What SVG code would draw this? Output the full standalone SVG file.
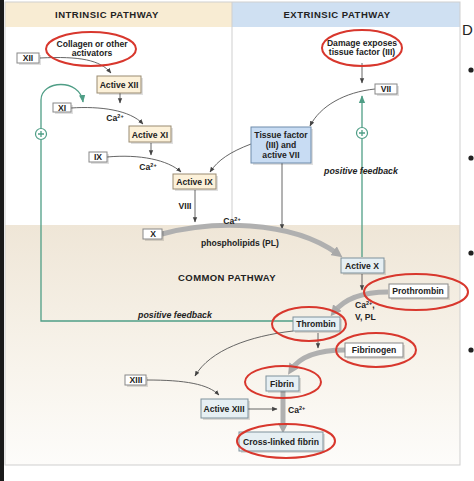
<svg xmlns="http://www.w3.org/2000/svg" width="474" height="481" viewBox="0 0 474 481">
<defs>
<linearGradient id="common" x1="0" y1="0" x2="0" y2="1">
<stop offset="0" stop-color="#efe6d7"/>
<stop offset="0.6" stop-color="#f8f4ec"/>
<stop offset="1" stop-color="#fdfcfa"/>
</linearGradient>
<marker id="ah" viewBox="0 0 10 10" refX="9" refY="5" markerWidth="6" markerHeight="6" orient="auto"><path d="M0,1 L10,5 L0,9 Z" fill="#444"/></marker>
<marker id="ag" viewBox="0 0 10 10" refX="9" refY="5" markerWidth="6" markerHeight="6" orient="auto"><path d="M0,1 L10,5 L0,9 Z" fill="#4f9e86"/></marker>
<marker id="at" viewBox="0 0 10 10" refX="5" refY="5" markerWidth="2.2" markerHeight="2.2" orient="auto"><path d="M0,0 L10,5 L0,10 Z" fill="#a9a9a9"/></marker>
<style>
text{font-family:"Liberation Sans",Arial,sans-serif;font-weight:bold;fill:#222}
.lbl{font-size:8.6px;text-anchor:middle}
.hdr{font-size:9.5px;text-anchor:middle;letter-spacing:0.5px}
.fac{fill:#fff;stroke:#888;stroke-width:1}
.act{fill:#fcf1d9;stroke:#9a8b72;stroke-width:1}
.com{fill:#e6eff3;stroke:#7f919b;stroke-width:1}
.tf{fill:#c8dcf3;stroke:#6f8cab;stroke-width:1}
.sh{fill:#000;opacity:0.12}
.red{fill:none;stroke:#d8372d;stroke-width:2}
.thin{fill:none;stroke:#555;stroke-width:0.9;marker-end:url(#ah)}
.thick{fill:none;stroke:#b0b0b0;stroke-width:5;marker-end:url(#at)}
.grn{fill:none;stroke:#4f9e86;stroke-width:1.3}
.it{font-style:italic;font-size:8.8px;text-anchor:middle}
</style>
</defs>
<rect width="474" height="481" fill="#fff"/>
<rect x="0" y="0" width="4" height="481" fill="#1a1a1a"/>
<rect x="5" y="225" width="455" height="240" fill="url(#common)"/>
<rect x="5" y="2" width="227" height="25" fill="#f8ecd3"/>
<rect x="232" y="2" width="228" height="25" fill="#cfe0f2"/>
<line x1="232" y1="2" x2="232" y2="225" stroke="#cfcfcf" stroke-width="1"/>
<rect x="5" y="2" width="455" height="463" fill="none" stroke="#cfcfcf" stroke-width="1"/>
<text class="hdr" x="107" y="18">INTRINSIC PATHWAY</text>
<text class="hdr" x="337" y="18">EXTRINSIC PATHWAY</text>
<text class="lbl" x="227" y="281" style="font-size:9.5px;letter-spacing:0.4px">COMMON PATHWAY</text>
<text x="462" y="35" style="font-size:15px;font-weight:normal">D</text>
<circle cx="471" cy="70" r="2.6" fill="#222"/>
<circle cx="471" cy="158" r="2.6" fill="#222"/>
<circle cx="471" cy="253" r="2.6" fill="#222"/>
<circle cx="471" cy="350" r="2.6" fill="#222"/>

<g id="connectors">
<path class="thin" d="M40,58 C80,56 100,60 111,73"/>
<path class="thin" d="M120,93 L120,103"/>
<path class="thin" d="M71,108 C100,106 130,110 143,124"/>
<path class="thin" d="M151,143 L151,155"/>
<path class="thin" d="M107,157 C140,154 168,160 181,172"/>
<path class="thin" d="M251,144 C230,152 218,160 210,172"/>
<path class="thin" d="M195,190 L195,222"/>
<path class="thin" d="M362,63 L362,83"/>
<path class="thin" d="M375,89 C345,92 320,106 310,126"/>
<path class="thin" d="M282,163 L282,229"/>
<path class="thin" d="M362,274 L362,290"/>
<path class="thin" d="M318,333 L318,348"/>
<path class="thin" d="M293,331 C250,336 210,350 195,376"/>
<path class="thin" d="M147,380 C185,380 208,384 219,395"/>
<path class="thin" d="M248,409 L277,409"/>
<path class="thick" d="M162,234 C210,221 290,219 338,254"/>
<path class="thick" d="M388,292 C365,292 345,298 334,312"/>
<path class="thick" d="M345,350 C318,350 300,356 291,370"/>
<path class="thick" d="M283,391 L283,428"/>
<path class="grn" d="M293,321 L41,321 L41,100 C41,80 80,78 83,102" marker-end="url(#ag)"/>
<path class="grn" d="M362,257 L362,96" marker-end="url(#ag)"/>
<circle cx="41" cy="134" r="5.5" fill="#fff" stroke="#4f9e86" stroke-width="1.2"/>
<path d="M38,134 h6 M41,131 v6" stroke="#4f9e86" stroke-width="1.3"/>
<circle cx="362" cy="133" r="5.5" fill="#fff" stroke="#4f9e86" stroke-width="1.2"/>
<path d="M359,133 h6 M362,130 v6" stroke="#4f9e86" stroke-width="1.3"/>
<text class="it" x="175" y="318">positive feedback</text>
<text class="it" x="361" y="174">positive feedback</text>
<text class="lbl" x="115" y="121">Ca<tspan dy="-3" font-size="5.5">2+</tspan></text>
<text class="lbl" x="148" y="170">Ca<tspan dy="-3" font-size="5.5">2+</tspan></text>
<text class="lbl" x="185" y="209">VIII</text>
<text class="lbl" x="232" y="224">Ca<tspan dy="-3" font-size="5.5">2+</tspan></text>
<text class="lbl" x="240" y="246">phospholipids (PL)</text>
<text x="355" y="308" style="font-size:8.6px">Ca<tspan dy="-3" font-size="5.5">2+</tspan><tspan dy="3">,</tspan></text>
<text x="355" y="320" style="font-size:8.6px">V, PL</text>
<text x="288" y="413" style="font-size:8.6px">Ca<tspan dy="-3" font-size="5.5">2+</tspan></text>
</g>

<g id="collagen"><text class="lbl" x="92" y="47">Collagen or other</text><text class="lbl" x="92" y="56">activators</text><ellipse class="red" cx="91" cy="49" rx="45" ry="17"/></g>
<g id="damage"><text class="lbl" x="362" y="46">Damage exposes</text><text class="lbl" x="362" y="55">tissue factor (III)</text><ellipse class="red" cx="362" cy="48" rx="40" ry="18"/></g>
<g id="xii"><rect class="sh" x="19" y="55" width="22" height="10"/><rect class="fac" x="17" y="53" width="22" height="10"/><text class="lbl" x="28" y="61">XII</text></g>
<g id="active-xii"><rect class="sh" x="99" y="78" width="44" height="17"/><rect class="act" x="97" y="76" width="44" height="17"/><text class="lbl" x="119" y="87.5">Active XII</text></g>
<g id="xi"><rect class="sh" x="55" y="105" width="18" height="9"/><rect class="fac" x="53" y="103" width="18" height="9"/><text class="lbl" x="62" y="111">XI</text></g>
<g id="active-xi"><rect class="sh" x="131" y="128" width="42" height="16"/><rect class="act" x="129" y="126" width="42" height="16"/><text class="lbl" x="150" y="137.5">Active XI</text></g>
<g id="ix"><rect class="sh" x="91" y="154" width="18" height="10"/><rect class="fac" x="89" y="152" width="18" height="10"/><text class="lbl" x="98" y="160">IX</text></g>
<g id="active-ix"><rect class="sh" x="175" y="176" width="43" height="15"/><rect class="act" x="173" y="174" width="43" height="15"/><text class="lbl" x="194.5" y="185">Active IX</text></g>
<g id="tissue-factor"><rect class="sh" x="253" y="129" width="60" height="36"/><rect class="tf" x="251" y="127" width="60" height="36"/><text class="lbl" x="281" y="138">Tissue factor</text><text class="lbl" x="281" y="148">(III) and</text><text class="lbl" x="281" y="158">active VII</text></g>
<g id="vii"><rect class="sh" x="377" y="86" width="22" height="10"/><rect class="fac" x="375" y="84" width="22" height="10"/><text class="lbl" x="386" y="92">VII</text></g>
<g id="x"><rect class="sh" x="145" y="231" width="19" height="10"/><rect class="fac" x="143" y="229" width="19" height="10"/><text class="lbl" x="153" y="237">X</text></g>
<g id="active-x"><rect class="sh" x="343" y="260" width="43" height="15"/><rect class="com" x="341" y="258" width="43" height="15"/><text class="lbl" x="362" y="269">Active X</text></g>
<g id="prothrombin"><rect class="sh" x="391" y="286" width="59" height="14"/><rect class="fac" x="389" y="284" width="59" height="14"/><text class="lbl" x="418" y="294">Prothrombin</text><ellipse class="red" cx="416" cy="292" rx="52" ry="18"/></g>
<g id="thrombin"><rect class="sh" x="295" y="319" width="47" height="14"/><rect class="com" x="293" y="317" width="47" height="14"/><text class="lbl" x="316" y="327">Thrombin</text><ellipse class="red" cx="309" cy="324" rx="37" ry="17"/></g>
<g id="fibrinogen"><rect class="sh" x="347" y="345" width="58" height="14"/><rect class="fac" x="345" y="343" width="58" height="14"/><text class="lbl" x="374" y="353">Fibrinogen</text><ellipse class="red" cx="376" cy="350" rx="40" ry="17"/></g>
<g id="fibrin"><rect class="sh" x="268" y="378" width="33" height="15"/><rect class="com" x="266" y="376" width="33" height="15"/><text class="lbl" x="282" y="387">Fibrin</text><ellipse class="red" cx="283" cy="382" rx="38" ry="16"/></g>
<g id="xiii"><rect class="sh" x="127" y="377" width="21" height="10"/><rect class="fac" x="125" y="375" width="21" height="10"/><text class="lbl" x="136" y="383">XIII</text></g>
<g id="active-xiii"><rect class="sh" x="203" y="401" width="47" height="19"/><rect class="com" x="201" y="399" width="47" height="19"/><text class="lbl" x="224" y="411.5">Active XIII</text></g>
<g id="cross-linked"><rect class="sh" x="241" y="434" width="84" height="19"/><rect class="com" x="239" y="432" width="84" height="19"/><text class="lbl" x="281" y="444.5">Cross-linked fibrin</text><ellipse class="red" cx="286" cy="441" rx="49" ry="17"/></g>
</svg>
